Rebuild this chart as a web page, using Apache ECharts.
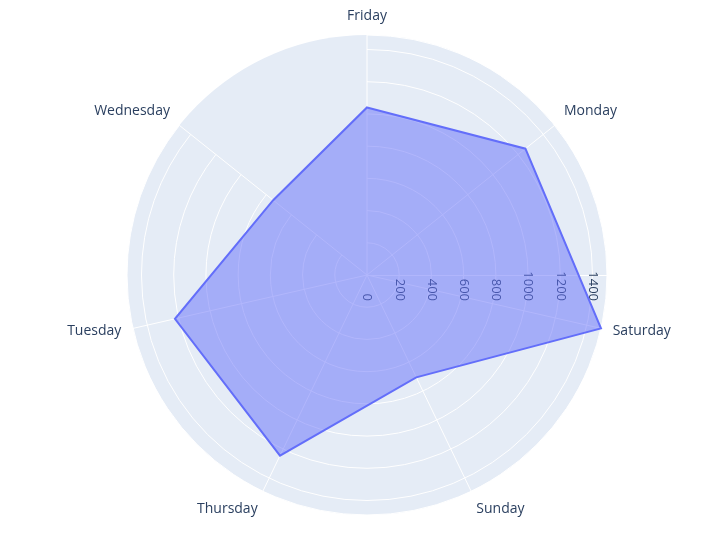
<!DOCTYPE html>
<html>
<head>
<meta charset="utf-8">
<script src="https://cdn.jsdelivr.net/npm/echarts@6/dist/echarts.min.js"></script>
<style>html,body{margin:0;background:#fff}#chart{width:712px;height:554px}</style>
</head>
<body>
<div id="chart"></div>
<script>
const days = ['Friday', 'Monday', 'Saturday', 'Sunday', 'Thursday', 'Tuesday', 'Wednesday'];
const totals = [1040, 1258, 1490, 705, 1245, 1223, 745];
const radialMax = 1490;

let chart = echarts.init(document.getElementById('chart'));
const font = '"Open Sans", sans-serif';
let option = {
    animation: false,
    graphic: [{
        type: 'circle', z: -10, silent: true,
        shape: { cx: 367, cy: 275, r: 240 },
        style: { fill: '#e5ecf6' }
    }],
    polar: [
        { center: [367, 275], radius: 240 },
        { center: [367, 275], radius: 240 }
    ],
    angleAxis: [{
        polarIndex: 0, type: 'category', data: days, startAngle: 90, clockwise: true,
        boundaryGap: false,
        axisLine: { show: false }, axisTick: { show: false },
        axisLabel: { color: '#2a3f5f', fontSize: 14, fontFamily: font, margin: 12 },
        splitLine: { show: true, lineStyle: { color: '#fff', width: 1 } }
    }, {
        polarIndex: 1, type: 'value', min: 0, max: 360, startAngle: 0, show: false
    }],
    radiusAxis: [{
        polarIndex: 0, min: 0, max: radialMax, interval: 200,
        axisLine: { show: false }, axisTick: { show: false }, axisLabel: { show: false },
        splitLine: { show: true, lineStyle: { color: '#fff' } }
    }, {
        polarIndex: 1, min: 0, max: radialMax, interval: 200,
        axisLine: { lineStyle: { color: '#fff' } }, axisTick: { show: false },
        splitLine: { show: false },
        axisLabel: { color: '#2a3f5f', fontSize: 13, fontFamily: font, rotate: -90, margin: -26,
            formatter: v => v > 1400 ? '' : v }
    }],
    series: [{
        type: 'custom', coordinateSystem: 'polar', polarIndex: 0,
        data: totals.map((v, i) => [v, i]),
        renderItem: (params, api) => {
            if (params.dataIndex !== 0) return null;
            let pts = totals.map((v, i) => api.coord([v, i]));
            return {
                type: 'polygon',
                shape: { points: pts },
                style: { fill: 'rgba(99,110,250,0.5)', stroke: '#636efa', lineWidth: 2 }
            };
        }
    }]
};
chart.setOption(option);
</script>
</body>
</html>
